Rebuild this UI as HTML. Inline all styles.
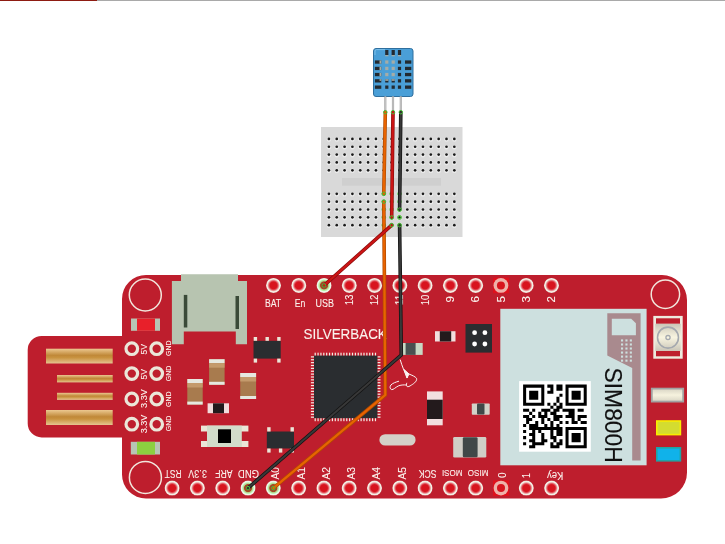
<!DOCTYPE html>
<html><head><meta charset="utf-8"><style>
html,body{margin:0;padding:0;background:#fff;width:725px;height:544px;overflow:hidden}
svg{display:block;will-change:transform}
text{font-family:"Liberation Sans",sans-serif}
</style></head><body>
<svg width="725" height="544" viewBox="0 0 725 544">
<defs>
<linearGradient id="gold" x1="0" y1="0" x2="0" y2="1">
<stop offset="0" stop-color="#ecc890"/><stop offset="0.45" stop-color="#c08838"/><stop offset="0.6" stop-color="#c8923f"/><stop offset="1" stop-color="#e6c490"/>
</linearGradient>
<radialGradient id="pinr" cx="0.5" cy="0.5" r="0.5">
<stop offset="0" stop-color="#d8141e"/><stop offset="0.46" stop-color="#d8141e"/><stop offset="0.6" stop-color="#e0505a"/><stop offset="0.72" stop-color="#eca4a4"/><stop offset="0.84" stop-color="#f6f2e8"/><stop offset="0.94" stop-color="#eeeae0"/><stop offset="1" stop-color="#dca8a4"/>
</radialGradient>
<radialGradient id="ping" cx="0.5" cy="0.5" r="0.5">
<stop offset="0" stop-color="#9c4626"/><stop offset="0.48" stop-color="#a24a26"/><stop offset="0.58" stop-color="#b8c888"/><stop offset="0.68" stop-color="#b0f0a0"/><stop offset="0.84" stop-color="#f0f8ea"/><stop offset="0.94" stop-color="#eaf0e2"/><stop offset="1" stop-color="#dcb0a8"/>
</radialGradient>
<linearGradient id="ant" x1="0" y1="0" x2="0" y2="1">
<stop offset="0" stop-color="#cac6b8"/><stop offset="0.5" stop-color="#f8f4e0"/><stop offset="1" stop-color="#cac6b8"/>
</linearGradient>
<linearGradient id="wcomp" x1="0" y1="0" x2="0" y2="1">
<stop offset="0" stop-color="#d8d4c4"/><stop offset="0.5" stop-color="#f6f2de"/><stop offset="1" stop-color="#d8d4c4"/>
</linearGradient>
</defs>

<rect x="0" y="0" width="97" height="1" fill="#8e1b12"/>
<rect x="97" y="0" width="628" height="1" fill="#a9a9a9"/>
<rect x="321" y="127" width="141.5" height="110" fill="#d9d9d9"/>
<rect x="342" y="178" width="99" height="7.7" fill="#cfcfcf"/>
<circle cx="328.90" cy="139.50" r="2.2" fill="#ececec"/>
<circle cx="328.90" cy="194.40" r="2.2" fill="#ececec"/>
<circle cx="328.90" cy="147.35" r="2.2" fill="#ececec"/>
<circle cx="328.90" cy="202.25" r="2.2" fill="#ececec"/>
<circle cx="328.90" cy="155.20" r="2.2" fill="#ececec"/>
<circle cx="328.90" cy="210.10" r="2.2" fill="#ececec"/>
<circle cx="328.90" cy="163.05" r="2.2" fill="#ececec"/>
<circle cx="328.90" cy="217.95" r="2.2" fill="#ececec"/>
<circle cx="328.90" cy="170.90" r="2.2" fill="#ececec"/>
<circle cx="328.90" cy="225.80" r="2.2" fill="#ececec"/>
<circle cx="336.74" cy="139.50" r="2.2" fill="#ececec"/>
<circle cx="336.74" cy="194.40" r="2.2" fill="#ececec"/>
<circle cx="336.74" cy="147.35" r="2.2" fill="#ececec"/>
<circle cx="336.74" cy="202.25" r="2.2" fill="#ececec"/>
<circle cx="336.74" cy="155.20" r="2.2" fill="#ececec"/>
<circle cx="336.74" cy="210.10" r="2.2" fill="#ececec"/>
<circle cx="336.74" cy="163.05" r="2.2" fill="#ececec"/>
<circle cx="336.74" cy="217.95" r="2.2" fill="#ececec"/>
<circle cx="336.74" cy="170.90" r="2.2" fill="#ececec"/>
<circle cx="336.74" cy="225.80" r="2.2" fill="#ececec"/>
<circle cx="344.58" cy="139.50" r="2.2" fill="#ececec"/>
<circle cx="344.58" cy="194.40" r="2.2" fill="#ececec"/>
<circle cx="344.58" cy="147.35" r="2.2" fill="#ececec"/>
<circle cx="344.58" cy="202.25" r="2.2" fill="#ececec"/>
<circle cx="344.58" cy="155.20" r="2.2" fill="#ececec"/>
<circle cx="344.58" cy="210.10" r="2.2" fill="#ececec"/>
<circle cx="344.58" cy="163.05" r="2.2" fill="#ececec"/>
<circle cx="344.58" cy="217.95" r="2.2" fill="#ececec"/>
<circle cx="344.58" cy="170.90" r="2.2" fill="#ececec"/>
<circle cx="344.58" cy="225.80" r="2.2" fill="#ececec"/>
<circle cx="352.42" cy="139.50" r="2.2" fill="#ececec"/>
<circle cx="352.42" cy="194.40" r="2.2" fill="#ececec"/>
<circle cx="352.42" cy="147.35" r="2.2" fill="#ececec"/>
<circle cx="352.42" cy="202.25" r="2.2" fill="#ececec"/>
<circle cx="352.42" cy="155.20" r="2.2" fill="#ececec"/>
<circle cx="352.42" cy="210.10" r="2.2" fill="#ececec"/>
<circle cx="352.42" cy="163.05" r="2.2" fill="#ececec"/>
<circle cx="352.42" cy="217.95" r="2.2" fill="#ececec"/>
<circle cx="352.42" cy="170.90" r="2.2" fill="#ececec"/>
<circle cx="352.42" cy="225.80" r="2.2" fill="#ececec"/>
<circle cx="360.26" cy="139.50" r="2.2" fill="#ececec"/>
<circle cx="360.26" cy="194.40" r="2.2" fill="#ececec"/>
<circle cx="360.26" cy="147.35" r="2.2" fill="#ececec"/>
<circle cx="360.26" cy="202.25" r="2.2" fill="#ececec"/>
<circle cx="360.26" cy="155.20" r="2.2" fill="#ececec"/>
<circle cx="360.26" cy="210.10" r="2.2" fill="#ececec"/>
<circle cx="360.26" cy="163.05" r="2.2" fill="#ececec"/>
<circle cx="360.26" cy="217.95" r="2.2" fill="#ececec"/>
<circle cx="360.26" cy="170.90" r="2.2" fill="#ececec"/>
<circle cx="360.26" cy="225.80" r="2.2" fill="#ececec"/>
<circle cx="368.10" cy="139.50" r="2.2" fill="#ececec"/>
<circle cx="368.10" cy="194.40" r="2.2" fill="#ececec"/>
<circle cx="368.10" cy="147.35" r="2.2" fill="#ececec"/>
<circle cx="368.10" cy="202.25" r="2.2" fill="#ececec"/>
<circle cx="368.10" cy="155.20" r="2.2" fill="#ececec"/>
<circle cx="368.10" cy="210.10" r="2.2" fill="#ececec"/>
<circle cx="368.10" cy="163.05" r="2.2" fill="#ececec"/>
<circle cx="368.10" cy="217.95" r="2.2" fill="#ececec"/>
<circle cx="368.10" cy="170.90" r="2.2" fill="#ececec"/>
<circle cx="368.10" cy="225.80" r="2.2" fill="#ececec"/>
<circle cx="375.94" cy="139.50" r="2.2" fill="#ececec"/>
<circle cx="375.94" cy="194.40" r="2.2" fill="#ececec"/>
<circle cx="375.94" cy="147.35" r="2.2" fill="#ececec"/>
<circle cx="375.94" cy="202.25" r="2.2" fill="#ececec"/>
<circle cx="375.94" cy="155.20" r="2.2" fill="#ececec"/>
<circle cx="375.94" cy="210.10" r="2.2" fill="#ececec"/>
<circle cx="375.94" cy="163.05" r="2.2" fill="#ececec"/>
<circle cx="375.94" cy="217.95" r="2.2" fill="#ececec"/>
<circle cx="375.94" cy="170.90" r="2.2" fill="#ececec"/>
<circle cx="375.94" cy="225.80" r="2.2" fill="#ececec"/>
<circle cx="383.78" cy="139.50" r="2.2" fill="#ececec"/>
<circle cx="383.78" cy="194.40" r="2.2" fill="#ececec"/>
<circle cx="383.78" cy="147.35" r="2.2" fill="#ececec"/>
<circle cx="383.78" cy="202.25" r="2.2" fill="#ececec"/>
<circle cx="383.78" cy="155.20" r="2.2" fill="#ececec"/>
<circle cx="383.78" cy="210.10" r="2.2" fill="#ececec"/>
<circle cx="383.78" cy="163.05" r="2.2" fill="#ececec"/>
<circle cx="383.78" cy="217.95" r="2.2" fill="#ececec"/>
<circle cx="383.78" cy="170.90" r="2.2" fill="#ececec"/>
<circle cx="383.78" cy="225.80" r="2.2" fill="#ececec"/>
<circle cx="391.62" cy="139.50" r="2.2" fill="#ececec"/>
<circle cx="391.62" cy="194.40" r="2.2" fill="#ececec"/>
<circle cx="391.62" cy="147.35" r="2.2" fill="#ececec"/>
<circle cx="391.62" cy="202.25" r="2.2" fill="#ececec"/>
<circle cx="391.62" cy="155.20" r="2.2" fill="#ececec"/>
<circle cx="391.62" cy="210.10" r="2.2" fill="#ececec"/>
<circle cx="391.62" cy="163.05" r="2.2" fill="#ececec"/>
<circle cx="391.62" cy="217.95" r="2.2" fill="#ececec"/>
<circle cx="391.62" cy="170.90" r="2.2" fill="#ececec"/>
<circle cx="391.62" cy="225.80" r="2.2" fill="#ececec"/>
<circle cx="399.46" cy="139.50" r="2.2" fill="#ececec"/>
<circle cx="399.46" cy="194.40" r="2.2" fill="#ececec"/>
<circle cx="399.46" cy="147.35" r="2.2" fill="#ececec"/>
<circle cx="399.46" cy="202.25" r="2.2" fill="#ececec"/>
<circle cx="399.46" cy="155.20" r="2.2" fill="#ececec"/>
<circle cx="399.46" cy="210.10" r="2.2" fill="#ececec"/>
<circle cx="399.46" cy="163.05" r="2.2" fill="#ececec"/>
<circle cx="399.46" cy="217.95" r="2.2" fill="#ececec"/>
<circle cx="399.46" cy="170.90" r="2.2" fill="#ececec"/>
<circle cx="399.46" cy="225.80" r="2.2" fill="#ececec"/>
<circle cx="407.30" cy="139.50" r="2.2" fill="#ececec"/>
<circle cx="407.30" cy="194.40" r="2.2" fill="#ececec"/>
<circle cx="407.30" cy="147.35" r="2.2" fill="#ececec"/>
<circle cx="407.30" cy="202.25" r="2.2" fill="#ececec"/>
<circle cx="407.30" cy="155.20" r="2.2" fill="#ececec"/>
<circle cx="407.30" cy="210.10" r="2.2" fill="#ececec"/>
<circle cx="407.30" cy="163.05" r="2.2" fill="#ececec"/>
<circle cx="407.30" cy="217.95" r="2.2" fill="#ececec"/>
<circle cx="407.30" cy="170.90" r="2.2" fill="#ececec"/>
<circle cx="407.30" cy="225.80" r="2.2" fill="#ececec"/>
<circle cx="415.14" cy="139.50" r="2.2" fill="#ececec"/>
<circle cx="415.14" cy="194.40" r="2.2" fill="#ececec"/>
<circle cx="415.14" cy="147.35" r="2.2" fill="#ececec"/>
<circle cx="415.14" cy="202.25" r="2.2" fill="#ececec"/>
<circle cx="415.14" cy="155.20" r="2.2" fill="#ececec"/>
<circle cx="415.14" cy="210.10" r="2.2" fill="#ececec"/>
<circle cx="415.14" cy="163.05" r="2.2" fill="#ececec"/>
<circle cx="415.14" cy="217.95" r="2.2" fill="#ececec"/>
<circle cx="415.14" cy="170.90" r="2.2" fill="#ececec"/>
<circle cx="415.14" cy="225.80" r="2.2" fill="#ececec"/>
<circle cx="422.98" cy="139.50" r="2.2" fill="#ececec"/>
<circle cx="422.98" cy="194.40" r="2.2" fill="#ececec"/>
<circle cx="422.98" cy="147.35" r="2.2" fill="#ececec"/>
<circle cx="422.98" cy="202.25" r="2.2" fill="#ececec"/>
<circle cx="422.98" cy="155.20" r="2.2" fill="#ececec"/>
<circle cx="422.98" cy="210.10" r="2.2" fill="#ececec"/>
<circle cx="422.98" cy="163.05" r="2.2" fill="#ececec"/>
<circle cx="422.98" cy="217.95" r="2.2" fill="#ececec"/>
<circle cx="422.98" cy="170.90" r="2.2" fill="#ececec"/>
<circle cx="422.98" cy="225.80" r="2.2" fill="#ececec"/>
<circle cx="430.82" cy="139.50" r="2.2" fill="#ececec"/>
<circle cx="430.82" cy="194.40" r="2.2" fill="#ececec"/>
<circle cx="430.82" cy="147.35" r="2.2" fill="#ececec"/>
<circle cx="430.82" cy="202.25" r="2.2" fill="#ececec"/>
<circle cx="430.82" cy="155.20" r="2.2" fill="#ececec"/>
<circle cx="430.82" cy="210.10" r="2.2" fill="#ececec"/>
<circle cx="430.82" cy="163.05" r="2.2" fill="#ececec"/>
<circle cx="430.82" cy="217.95" r="2.2" fill="#ececec"/>
<circle cx="430.82" cy="170.90" r="2.2" fill="#ececec"/>
<circle cx="430.82" cy="225.80" r="2.2" fill="#ececec"/>
<circle cx="438.66" cy="139.50" r="2.2" fill="#ececec"/>
<circle cx="438.66" cy="194.40" r="2.2" fill="#ececec"/>
<circle cx="438.66" cy="147.35" r="2.2" fill="#ececec"/>
<circle cx="438.66" cy="202.25" r="2.2" fill="#ececec"/>
<circle cx="438.66" cy="155.20" r="2.2" fill="#ececec"/>
<circle cx="438.66" cy="210.10" r="2.2" fill="#ececec"/>
<circle cx="438.66" cy="163.05" r="2.2" fill="#ececec"/>
<circle cx="438.66" cy="217.95" r="2.2" fill="#ececec"/>
<circle cx="438.66" cy="170.90" r="2.2" fill="#ececec"/>
<circle cx="438.66" cy="225.80" r="2.2" fill="#ececec"/>
<circle cx="446.50" cy="139.50" r="2.2" fill="#ececec"/>
<circle cx="446.50" cy="194.40" r="2.2" fill="#ececec"/>
<circle cx="446.50" cy="147.35" r="2.2" fill="#ececec"/>
<circle cx="446.50" cy="202.25" r="2.2" fill="#ececec"/>
<circle cx="446.50" cy="155.20" r="2.2" fill="#ececec"/>
<circle cx="446.50" cy="210.10" r="2.2" fill="#ececec"/>
<circle cx="446.50" cy="163.05" r="2.2" fill="#ececec"/>
<circle cx="446.50" cy="217.95" r="2.2" fill="#ececec"/>
<circle cx="446.50" cy="170.90" r="2.2" fill="#ececec"/>
<circle cx="446.50" cy="225.80" r="2.2" fill="#ececec"/>
<circle cx="454.34" cy="139.50" r="2.2" fill="#ececec"/>
<circle cx="454.34" cy="194.40" r="2.2" fill="#ececec"/>
<circle cx="454.34" cy="147.35" r="2.2" fill="#ececec"/>
<circle cx="454.34" cy="202.25" r="2.2" fill="#ececec"/>
<circle cx="454.34" cy="155.20" r="2.2" fill="#ececec"/>
<circle cx="454.34" cy="210.10" r="2.2" fill="#ececec"/>
<circle cx="454.34" cy="163.05" r="2.2" fill="#ececec"/>
<circle cx="454.34" cy="217.95" r="2.2" fill="#ececec"/>
<circle cx="454.34" cy="170.90" r="2.2" fill="#ececec"/>
<circle cx="454.34" cy="225.80" r="2.2" fill="#ececec"/>
<circle cx="328.90" cy="138.90" r="1.35" fill="#1a1a1a"/>
<circle cx="328.90" cy="193.80" r="1.35" fill="#1a1a1a"/>
<circle cx="328.90" cy="146.75" r="1.35" fill="#1a1a1a"/>
<circle cx="328.90" cy="201.65" r="1.35" fill="#1a1a1a"/>
<circle cx="328.90" cy="154.60" r="1.35" fill="#1a1a1a"/>
<circle cx="328.90" cy="209.50" r="1.35" fill="#1a1a1a"/>
<circle cx="328.90" cy="162.45" r="1.35" fill="#1a1a1a"/>
<circle cx="328.90" cy="217.35" r="1.35" fill="#1a1a1a"/>
<circle cx="328.90" cy="170.30" r="1.35" fill="#1a1a1a"/>
<circle cx="328.90" cy="225.20" r="1.35" fill="#1a1a1a"/>
<circle cx="336.74" cy="138.90" r="1.35" fill="#1a1a1a"/>
<circle cx="336.74" cy="193.80" r="1.35" fill="#1a1a1a"/>
<circle cx="336.74" cy="146.75" r="1.35" fill="#1a1a1a"/>
<circle cx="336.74" cy="201.65" r="1.35" fill="#1a1a1a"/>
<circle cx="336.74" cy="154.60" r="1.35" fill="#1a1a1a"/>
<circle cx="336.74" cy="209.50" r="1.35" fill="#1a1a1a"/>
<circle cx="336.74" cy="162.45" r="1.35" fill="#1a1a1a"/>
<circle cx="336.74" cy="217.35" r="1.35" fill="#1a1a1a"/>
<circle cx="336.74" cy="170.30" r="1.35" fill="#1a1a1a"/>
<circle cx="336.74" cy="225.20" r="1.35" fill="#1a1a1a"/>
<circle cx="344.58" cy="138.90" r="1.35" fill="#1a1a1a"/>
<circle cx="344.58" cy="193.80" r="1.35" fill="#1a1a1a"/>
<circle cx="344.58" cy="146.75" r="1.35" fill="#1a1a1a"/>
<circle cx="344.58" cy="201.65" r="1.35" fill="#1a1a1a"/>
<circle cx="344.58" cy="154.60" r="1.35" fill="#1a1a1a"/>
<circle cx="344.58" cy="209.50" r="1.35" fill="#1a1a1a"/>
<circle cx="344.58" cy="162.45" r="1.35" fill="#1a1a1a"/>
<circle cx="344.58" cy="217.35" r="1.35" fill="#1a1a1a"/>
<circle cx="344.58" cy="170.30" r="1.35" fill="#1a1a1a"/>
<circle cx="344.58" cy="225.20" r="1.35" fill="#1a1a1a"/>
<circle cx="352.42" cy="138.90" r="1.35" fill="#1a1a1a"/>
<circle cx="352.42" cy="193.80" r="1.35" fill="#1a1a1a"/>
<circle cx="352.42" cy="146.75" r="1.35" fill="#1a1a1a"/>
<circle cx="352.42" cy="201.65" r="1.35" fill="#1a1a1a"/>
<circle cx="352.42" cy="154.60" r="1.35" fill="#1a1a1a"/>
<circle cx="352.42" cy="209.50" r="1.35" fill="#1a1a1a"/>
<circle cx="352.42" cy="162.45" r="1.35" fill="#1a1a1a"/>
<circle cx="352.42" cy="217.35" r="1.35" fill="#1a1a1a"/>
<circle cx="352.42" cy="170.30" r="1.35" fill="#1a1a1a"/>
<circle cx="352.42" cy="225.20" r="1.35" fill="#1a1a1a"/>
<circle cx="360.26" cy="138.90" r="1.35" fill="#1a1a1a"/>
<circle cx="360.26" cy="193.80" r="1.35" fill="#1a1a1a"/>
<circle cx="360.26" cy="146.75" r="1.35" fill="#1a1a1a"/>
<circle cx="360.26" cy="201.65" r="1.35" fill="#1a1a1a"/>
<circle cx="360.26" cy="154.60" r="1.35" fill="#1a1a1a"/>
<circle cx="360.26" cy="209.50" r="1.35" fill="#1a1a1a"/>
<circle cx="360.26" cy="162.45" r="1.35" fill="#1a1a1a"/>
<circle cx="360.26" cy="217.35" r="1.35" fill="#1a1a1a"/>
<circle cx="360.26" cy="170.30" r="1.35" fill="#1a1a1a"/>
<circle cx="360.26" cy="225.20" r="1.35" fill="#1a1a1a"/>
<circle cx="368.10" cy="138.90" r="1.35" fill="#1a1a1a"/>
<circle cx="368.10" cy="193.80" r="1.35" fill="#1a1a1a"/>
<circle cx="368.10" cy="146.75" r="1.35" fill="#1a1a1a"/>
<circle cx="368.10" cy="201.65" r="1.35" fill="#1a1a1a"/>
<circle cx="368.10" cy="154.60" r="1.35" fill="#1a1a1a"/>
<circle cx="368.10" cy="209.50" r="1.35" fill="#1a1a1a"/>
<circle cx="368.10" cy="162.45" r="1.35" fill="#1a1a1a"/>
<circle cx="368.10" cy="217.35" r="1.35" fill="#1a1a1a"/>
<circle cx="368.10" cy="170.30" r="1.35" fill="#1a1a1a"/>
<circle cx="368.10" cy="225.20" r="1.35" fill="#1a1a1a"/>
<circle cx="375.94" cy="138.90" r="1.35" fill="#1a1a1a"/>
<circle cx="375.94" cy="193.80" r="1.35" fill="#1a1a1a"/>
<circle cx="375.94" cy="146.75" r="1.35" fill="#1a1a1a"/>
<circle cx="375.94" cy="201.65" r="1.35" fill="#1a1a1a"/>
<circle cx="375.94" cy="154.60" r="1.35" fill="#1a1a1a"/>
<circle cx="375.94" cy="209.50" r="1.35" fill="#1a1a1a"/>
<circle cx="375.94" cy="162.45" r="1.35" fill="#1a1a1a"/>
<circle cx="375.94" cy="217.35" r="1.35" fill="#1a1a1a"/>
<circle cx="375.94" cy="170.30" r="1.35" fill="#1a1a1a"/>
<circle cx="375.94" cy="225.20" r="1.35" fill="#1a1a1a"/>
<circle cx="383.78" cy="138.90" r="1.35" fill="#1a1a1a"/>
<circle cx="383.78" cy="193.80" r="1.35" fill="#1a1a1a"/>
<circle cx="383.78" cy="146.75" r="1.35" fill="#1a1a1a"/>
<circle cx="383.78" cy="201.65" r="1.35" fill="#1a1a1a"/>
<circle cx="383.78" cy="154.60" r="1.35" fill="#1a1a1a"/>
<circle cx="383.78" cy="209.50" r="1.35" fill="#1a1a1a"/>
<circle cx="383.78" cy="162.45" r="1.35" fill="#1a1a1a"/>
<circle cx="383.78" cy="217.35" r="1.35" fill="#1a1a1a"/>
<circle cx="383.78" cy="170.30" r="1.35" fill="#1a1a1a"/>
<circle cx="383.78" cy="225.20" r="1.35" fill="#1a1a1a"/>
<circle cx="391.62" cy="138.90" r="1.35" fill="#1a1a1a"/>
<circle cx="391.62" cy="193.80" r="1.35" fill="#1a1a1a"/>
<circle cx="391.62" cy="146.75" r="1.35" fill="#1a1a1a"/>
<circle cx="391.62" cy="201.65" r="1.35" fill="#1a1a1a"/>
<circle cx="391.62" cy="154.60" r="1.35" fill="#1a1a1a"/>
<circle cx="391.62" cy="209.50" r="1.35" fill="#1a1a1a"/>
<circle cx="391.62" cy="162.45" r="1.35" fill="#1a1a1a"/>
<circle cx="391.62" cy="217.35" r="1.35" fill="#1a1a1a"/>
<circle cx="391.62" cy="170.30" r="1.35" fill="#1a1a1a"/>
<circle cx="391.62" cy="225.20" r="1.35" fill="#1a1a1a"/>
<circle cx="399.46" cy="138.90" r="1.35" fill="#1a1a1a"/>
<circle cx="399.46" cy="193.80" r="1.35" fill="#1a1a1a"/>
<circle cx="399.46" cy="146.75" r="1.35" fill="#1a1a1a"/>
<circle cx="399.46" cy="201.65" r="1.35" fill="#1a1a1a"/>
<circle cx="399.46" cy="154.60" r="1.35" fill="#1a1a1a"/>
<circle cx="399.46" cy="209.50" r="1.35" fill="#1a1a1a"/>
<circle cx="399.46" cy="162.45" r="1.35" fill="#1a1a1a"/>
<circle cx="399.46" cy="217.35" r="1.35" fill="#1a1a1a"/>
<circle cx="399.46" cy="170.30" r="1.35" fill="#1a1a1a"/>
<circle cx="399.46" cy="225.20" r="1.35" fill="#1a1a1a"/>
<circle cx="407.30" cy="138.90" r="1.35" fill="#1a1a1a"/>
<circle cx="407.30" cy="193.80" r="1.35" fill="#1a1a1a"/>
<circle cx="407.30" cy="146.75" r="1.35" fill="#1a1a1a"/>
<circle cx="407.30" cy="201.65" r="1.35" fill="#1a1a1a"/>
<circle cx="407.30" cy="154.60" r="1.35" fill="#1a1a1a"/>
<circle cx="407.30" cy="209.50" r="1.35" fill="#1a1a1a"/>
<circle cx="407.30" cy="162.45" r="1.35" fill="#1a1a1a"/>
<circle cx="407.30" cy="217.35" r="1.35" fill="#1a1a1a"/>
<circle cx="407.30" cy="170.30" r="1.35" fill="#1a1a1a"/>
<circle cx="407.30" cy="225.20" r="1.35" fill="#1a1a1a"/>
<circle cx="415.14" cy="138.90" r="1.35" fill="#1a1a1a"/>
<circle cx="415.14" cy="193.80" r="1.35" fill="#1a1a1a"/>
<circle cx="415.14" cy="146.75" r="1.35" fill="#1a1a1a"/>
<circle cx="415.14" cy="201.65" r="1.35" fill="#1a1a1a"/>
<circle cx="415.14" cy="154.60" r="1.35" fill="#1a1a1a"/>
<circle cx="415.14" cy="209.50" r="1.35" fill="#1a1a1a"/>
<circle cx="415.14" cy="162.45" r="1.35" fill="#1a1a1a"/>
<circle cx="415.14" cy="217.35" r="1.35" fill="#1a1a1a"/>
<circle cx="415.14" cy="170.30" r="1.35" fill="#1a1a1a"/>
<circle cx="415.14" cy="225.20" r="1.35" fill="#1a1a1a"/>
<circle cx="422.98" cy="138.90" r="1.35" fill="#1a1a1a"/>
<circle cx="422.98" cy="193.80" r="1.35" fill="#1a1a1a"/>
<circle cx="422.98" cy="146.75" r="1.35" fill="#1a1a1a"/>
<circle cx="422.98" cy="201.65" r="1.35" fill="#1a1a1a"/>
<circle cx="422.98" cy="154.60" r="1.35" fill="#1a1a1a"/>
<circle cx="422.98" cy="209.50" r="1.35" fill="#1a1a1a"/>
<circle cx="422.98" cy="162.45" r="1.35" fill="#1a1a1a"/>
<circle cx="422.98" cy="217.35" r="1.35" fill="#1a1a1a"/>
<circle cx="422.98" cy="170.30" r="1.35" fill="#1a1a1a"/>
<circle cx="422.98" cy="225.20" r="1.35" fill="#1a1a1a"/>
<circle cx="430.82" cy="138.90" r="1.35" fill="#1a1a1a"/>
<circle cx="430.82" cy="193.80" r="1.35" fill="#1a1a1a"/>
<circle cx="430.82" cy="146.75" r="1.35" fill="#1a1a1a"/>
<circle cx="430.82" cy="201.65" r="1.35" fill="#1a1a1a"/>
<circle cx="430.82" cy="154.60" r="1.35" fill="#1a1a1a"/>
<circle cx="430.82" cy="209.50" r="1.35" fill="#1a1a1a"/>
<circle cx="430.82" cy="162.45" r="1.35" fill="#1a1a1a"/>
<circle cx="430.82" cy="217.35" r="1.35" fill="#1a1a1a"/>
<circle cx="430.82" cy="170.30" r="1.35" fill="#1a1a1a"/>
<circle cx="430.82" cy="225.20" r="1.35" fill="#1a1a1a"/>
<circle cx="438.66" cy="138.90" r="1.35" fill="#1a1a1a"/>
<circle cx="438.66" cy="193.80" r="1.35" fill="#1a1a1a"/>
<circle cx="438.66" cy="146.75" r="1.35" fill="#1a1a1a"/>
<circle cx="438.66" cy="201.65" r="1.35" fill="#1a1a1a"/>
<circle cx="438.66" cy="154.60" r="1.35" fill="#1a1a1a"/>
<circle cx="438.66" cy="209.50" r="1.35" fill="#1a1a1a"/>
<circle cx="438.66" cy="162.45" r="1.35" fill="#1a1a1a"/>
<circle cx="438.66" cy="217.35" r="1.35" fill="#1a1a1a"/>
<circle cx="438.66" cy="170.30" r="1.35" fill="#1a1a1a"/>
<circle cx="438.66" cy="225.20" r="1.35" fill="#1a1a1a"/>
<circle cx="446.50" cy="138.90" r="1.35" fill="#1a1a1a"/>
<circle cx="446.50" cy="193.80" r="1.35" fill="#1a1a1a"/>
<circle cx="446.50" cy="146.75" r="1.35" fill="#1a1a1a"/>
<circle cx="446.50" cy="201.65" r="1.35" fill="#1a1a1a"/>
<circle cx="446.50" cy="154.60" r="1.35" fill="#1a1a1a"/>
<circle cx="446.50" cy="209.50" r="1.35" fill="#1a1a1a"/>
<circle cx="446.50" cy="162.45" r="1.35" fill="#1a1a1a"/>
<circle cx="446.50" cy="217.35" r="1.35" fill="#1a1a1a"/>
<circle cx="446.50" cy="170.30" r="1.35" fill="#1a1a1a"/>
<circle cx="446.50" cy="225.20" r="1.35" fill="#1a1a1a"/>
<circle cx="454.34" cy="138.90" r="1.35" fill="#1a1a1a"/>
<circle cx="454.34" cy="193.80" r="1.35" fill="#1a1a1a"/>
<circle cx="454.34" cy="146.75" r="1.35" fill="#1a1a1a"/>
<circle cx="454.34" cy="201.65" r="1.35" fill="#1a1a1a"/>
<circle cx="454.34" cy="154.60" r="1.35" fill="#1a1a1a"/>
<circle cx="454.34" cy="209.50" r="1.35" fill="#1a1a1a"/>
<circle cx="454.34" cy="162.45" r="1.35" fill="#1a1a1a"/>
<circle cx="454.34" cy="217.35" r="1.35" fill="#1a1a1a"/>
<circle cx="454.34" cy="170.30" r="1.35" fill="#1a1a1a"/>
<circle cx="454.34" cy="225.20" r="1.35" fill="#1a1a1a"/>
<circle cx="383.78" cy="193.80" r="1.9" fill="none" stroke="#5ac84a" stroke-width="0.9"/>
<circle cx="383.78" cy="201.65" r="1.9" fill="none" stroke="#5ac84a" stroke-width="0.9"/>
<circle cx="383.78" cy="209.50" r="1.9" fill="none" stroke="#5ac84a" stroke-width="0.9"/>
<circle cx="383.78" cy="217.35" r="1.9" fill="none" stroke="#5ac84a" stroke-width="0.9"/>
<circle cx="383.78" cy="225.20" r="1.9" fill="none" stroke="#5ac84a" stroke-width="0.9"/>
<circle cx="391.62" cy="193.80" r="1.9" fill="none" stroke="#5ac84a" stroke-width="0.9"/>
<circle cx="391.62" cy="201.65" r="1.9" fill="none" stroke="#5ac84a" stroke-width="0.9"/>
<circle cx="391.62" cy="209.50" r="1.9" fill="none" stroke="#5ac84a" stroke-width="0.9"/>
<circle cx="391.62" cy="217.35" r="1.9" fill="none" stroke="#5ac84a" stroke-width="0.9"/>
<circle cx="391.62" cy="225.20" r="1.9" fill="none" stroke="#5ac84a" stroke-width="0.9"/>
<circle cx="399.46" cy="193.80" r="1.9" fill="none" stroke="#5ac84a" stroke-width="0.9"/>
<circle cx="399.46" cy="201.65" r="1.9" fill="none" stroke="#5ac84a" stroke-width="0.9"/>
<circle cx="399.46" cy="209.50" r="1.9" fill="none" stroke="#5ac84a" stroke-width="0.9"/>
<circle cx="399.46" cy="217.35" r="1.9" fill="none" stroke="#5ac84a" stroke-width="0.9"/>
<circle cx="399.46" cy="225.20" r="1.9" fill="none" stroke="#5ac84a" stroke-width="0.9"/>
<rect x="373.5" y="48.5" width="39.5" height="48" rx="2.5" fill="#4a9fd7" stroke="#2f6f9e" stroke-width="1"/>
<path d="M375,55 V51 Q375,49.6 376.5,49.6 H385" fill="none" stroke="#8cc8ee" stroke-width="0.8"/>
<rect x="385.2" y="50" width="3.2" height="5" fill="#232a30"/>
<rect x="385.2" y="55" width="3.2" height="1.3" fill="#a0aaa4"/>
<rect x="391.6" y="50" width="3.2" height="5" fill="#232a30"/>
<rect x="391.6" y="55" width="3.2" height="1.3" fill="#a0aaa4"/>
<rect x="397.9" y="50" width="3.2" height="5" fill="#232a30"/>
<rect x="397.9" y="55" width="3.2" height="1.3" fill="#a0aaa4"/>
<rect x="374.9" y="60.4" width="6.4" height="3.3" fill="#232a30"/>
<rect x="405" y="60.4" width="6.3" height="3.3" fill="#232a30"/>
<rect x="397.9" y="60.4" width="3.2" height="3.3" fill="#232a30"/>
<rect x="385.2" y="60.4" width="3.2" height="3.3" fill="#a6aca6"/>
<rect x="391.6" y="60.4" width="3.2" height="3.3" fill="#a6aca6"/>
<rect x="379.5" y="60.4" width="1.8" height="3.3" fill="#a6aca6"/>
<rect x="374.9" y="66.8" width="6.4" height="3.3" fill="#232a30"/>
<rect x="405" y="66.8" width="6.3" height="3.3" fill="#232a30"/>
<rect x="397.9" y="66.8" width="3.2" height="3.3" fill="#232a30"/>
<rect x="385.2" y="66.8" width="3.2" height="3.3" fill="#a6aca6"/>
<rect x="391.6" y="66.8" width="3.2" height="3.3" fill="#a6aca6"/>
<rect x="379.5" y="66.8" width="1.8" height="3.3" fill="#a6aca6"/>
<rect x="374.9" y="72.9" width="6.4" height="3.3" fill="#232a30"/>
<rect x="405" y="72.9" width="6.3" height="3.3" fill="#232a30"/>
<rect x="397.9" y="72.9" width="3.2" height="3.3" fill="#232a30"/>
<rect x="385.2" y="72.9" width="3.2" height="3.3" fill="#a6aca6"/>
<rect x="391.6" y="72.9" width="3.2" height="3.3" fill="#a6aca6"/>
<rect x="379.5" y="72.9" width="1.8" height="3.3" fill="#a6aca6"/>
<rect x="374.9" y="79.2" width="6.4" height="3.3" fill="#232a30"/>
<rect x="405" y="79.2" width="6.3" height="3.3" fill="#232a30"/>
<rect x="397.9" y="79.2" width="3.2" height="3.3" fill="#232a30"/>
<rect x="385.2" y="79.2" width="3.2" height="3.3" fill="#232a30"/>
<rect x="391.6" y="79.2" width="3.2" height="3.3" fill="#232a30"/>
<rect x="385.2" y="79.2" width="3.2" height="1.6" fill="#a6aca6"/>
<rect x="391.6" y="79.2" width="3.2" height="1.6" fill="#a6aca6"/>
<rect x="379.5" y="79.2" width="1.8" height="1.6" fill="#a6aca6"/>
<rect x="374.9" y="85.5" width="6.4" height="3.3" fill="#232a30"/>
<rect x="405" y="85.5" width="6.3" height="3.3" fill="#232a30"/>
<rect x="397.9" y="85.5" width="3.2" height="3.3" fill="#232a30"/>
<rect x="385.2" y="85.5" width="3.2" height="3.3" fill="#232a30"/>
<rect x="391.6" y="85.5" width="3.2" height="3.3" fill="#232a30"/>
<rect x="384.2" y="96.5" width="2.2" height="16" fill="#acacac"/><rect x="384.85" y="96.5" width="0.9" height="16" fill="#c8c8c8"/>
<rect x="391.9" y="96.5" width="2.2" height="16" fill="#acacac"/><rect x="392.55" y="96.5" width="0.9" height="16" fill="#c8c8c8"/>
<rect x="399.7" y="96.5" width="2.2" height="16" fill="#acacac"/><rect x="400.35" y="96.5" width="0.9" height="16" fill="#c8c8c8"/>
<path d="M146,275 H662 A25 25 0 0 1 687 300 V472.5 A26 26 0 0 1 661 498.5 H146 A24 24 0 0 1 122 474.5 V437.4 H41.7 A14 14 0 0 1 27.7 423.4 V350 A14 14 0 0 1 41.7 336 H122 V299 A24 24 0 0 1 146 275 Z" fill="#be1e2d"/>
<circle cx="145.3" cy="295" r="16" fill="none" stroke="#f2e6dc" stroke-width="1.5"/>
<circle cx="145.4" cy="477.4" r="16" fill="none" stroke="#f2e6dc" stroke-width="1.5"/>
<circle cx="665.4" cy="294.2" r="14.2" fill="none" stroke="#f2e6dc" stroke-width="1.5"/>
<rect x="46" y="348.7" width="66.7" height="14.8" fill="url(#gold)"/>
<rect x="57" y="375" width="55.7" height="7.4" fill="url(#gold)"/>
<rect x="57" y="392.8" width="55.7" height="7.1" fill="url(#gold)"/>
<rect x="46" y="410" width="66.7" height="15" fill="url(#gold)"/>
<rect x="131" y="318.5" width="29" height="12.3" fill="#b8c4b4"/><rect x="137" y="318.5" width="18" height="12.3" fill="#e8202a"/>
<rect x="130.8" y="441.8" width="29.2" height="12.7" fill="#b8c4b4"/><rect x="137" y="441.8" width="18" height="12.7" fill="#8cd040"/>
<circle cx="131.8" cy="348.7" r="5.8" fill="none" stroke="#ebe7d9" stroke-width="3.2"/>
<circle cx="131.8" cy="373.6" r="5.8" fill="none" stroke="#ebe7d9" stroke-width="3.2"/>
<circle cx="131.8" cy="399.0" r="5.8" fill="none" stroke="#ebe7d9" stroke-width="3.2"/>
<circle cx="131.8" cy="424.2" r="5.8" fill="none" stroke="#ebe7d9" stroke-width="3.2"/>
<circle cx="156.7" cy="348.7" r="5.8" fill="none" stroke="#ebe7d9" stroke-width="3.2"/>
<circle cx="156.7" cy="373.6" r="5.8" fill="none" stroke="#ebe7d9" stroke-width="3.2"/>
<circle cx="156.7" cy="399.0" r="5.8" fill="none" stroke="#ebe7d9" stroke-width="3.2"/>
<circle cx="156.7" cy="424.2" r="5.8" fill="none" stroke="#ebe7d9" stroke-width="3.2"/>
<text transform="translate(147.20,349.20) rotate(-90)" font-size="9.2" fill="#fbf3ee" stroke="#fbf3ee" stroke-width="0.08" text-anchor="middle" textLength="10.4" lengthAdjust="spacingAndGlyphs">5V</text>
<text transform="translate(147.20,374.20) rotate(-90)" font-size="9.2" fill="#fbf3ee" stroke="#fbf3ee" stroke-width="0.08" text-anchor="middle" textLength="10.4" lengthAdjust="spacingAndGlyphs">5V</text>
<text transform="translate(147.20,398.60) rotate(-90)" font-size="9.2" fill="#fbf3ee" stroke="#fbf3ee" stroke-width="0.08" text-anchor="middle" textLength="18.6" lengthAdjust="spacingAndGlyphs">3.3V</text>
<text transform="translate(147.20,424.00) rotate(-90)" font-size="9.2" fill="#fbf3ee" stroke="#fbf3ee" stroke-width="0.08" text-anchor="middle" textLength="18.6" lengthAdjust="spacingAndGlyphs">3.3V</text>
<text transform="translate(170.60,348.20) rotate(-90)" font-size="7.9" fill="#fbf3ee" stroke="#fbf3ee" stroke-width="0.08" text-anchor="middle" textLength="15.4" lengthAdjust="spacingAndGlyphs">GND</text>
<text transform="translate(170.60,373.50) rotate(-90)" font-size="7.9" fill="#fbf3ee" stroke="#fbf3ee" stroke-width="0.08" text-anchor="middle" textLength="15.4" lengthAdjust="spacingAndGlyphs">GND</text>
<text transform="translate(170.60,399.20) rotate(-90)" font-size="7.9" fill="#fbf3ee" stroke="#fbf3ee" stroke-width="0.08" text-anchor="middle" textLength="15.4" lengthAdjust="spacingAndGlyphs">GND</text>
<text transform="translate(170.60,423.50) rotate(-90)" font-size="7.9" fill="#fbf3ee" stroke="#fbf3ee" stroke-width="0.08" text-anchor="middle" textLength="15.4" lengthAdjust="spacingAndGlyphs">GND</text>
<path d="M181,274.2 H238 V281 H247 V344.3 H235.8 V331.6 H183.8 V344.3 H171.9 V281 H181 Z" fill="#b7c4b0"/>
<rect x="183.8" y="294.9" width="3.5" height="32.6" fill="#3a4a38"/>
<rect x="235.5" y="296" width="3.5" height="33" fill="#3a4a38"/>
<rect x="253.5" y="340.8" width="27.2" height="17.8" fill="#2a2d30"/>
<rect x="253.7" y="337" width="3.4" height="3.8" fill="#ebe6d8"/>
<rect x="265.5" y="337" width="3.4" height="3.8" fill="#ebe6d8"/>
<rect x="277.2" y="337" width="3.4" height="3.8" fill="#ebe6d8"/>
<rect x="253.7" y="358.6" width="3.4" height="4" fill="#ebe6d8"/>
<rect x="277.2" y="358.6" width="3.4" height="4" fill="#ebe6d8"/>
<rect x="266.8" y="431.5" width="27.2" height="17" fill="#2a2d30"/>
<rect x="267.2" y="427.2" width="3.4" height="4.3" fill="#ebe6d8"/>
<rect x="290.5" y="427.2" width="3.4" height="4.3" fill="#ebe6d8"/>
<rect x="267.2" y="448.5" width="3.4" height="4.1" fill="#ebe6d8"/>
<rect x="278.9" y="448.5" width="3.4" height="4.1" fill="#ebe6d8"/>
<rect x="290.5" y="448.5" width="3.4" height="4.1" fill="#ebe6d8"/>
<rect x="209.1" y="359.2" width="15.50" height="25.60" fill="#a87b4e"/>
<rect x="209.1" y="359.2" width="15.50" height="4" fill="#e6e8e0"/>
<rect x="209.1" y="363.2" width="15.50" height="4.5" fill="#c49a6c"/>
<rect x="209.1" y="381.8" width="15.50" height="3" fill="#e6e8e0"/>
<rect x="187.3" y="379" width="15.40" height="25.60" fill="#a87b4e"/>
<rect x="187.3" y="379" width="15.40" height="4" fill="#e6e8e0"/>
<rect x="187.3" y="383" width="15.40" height="4.5" fill="#c49a6c"/>
<rect x="187.3" y="401.6" width="15.40" height="3" fill="#e6e8e0"/>
<rect x="240.2" y="373" width="15.90" height="26.00" fill="#a87b4e"/>
<rect x="240.2" y="373" width="15.90" height="4" fill="#e6e8e0"/>
<rect x="240.2" y="377" width="15.90" height="4.5" fill="#c49a6c"/>
<rect x="240.2" y="396" width="15.90" height="3" fill="#e6e8e0"/>
<rect x="207.6" y="403.3" width="21.4" height="9.9" fill="#f2dcdc"/><rect x="213" y="403.3" width="11" height="9.9" fill="#221a1c"/>
<rect x="201" y="425.6" width="47.4" height="5.9" fill="#ebe6d8"/><rect x="201" y="441" width="47.4" height="6" fill="#ebe6d8"/>
<rect x="207" y="425.6" width="34.8" height="21.4" fill="#d2dcca"/><rect x="218" y="429.3" width="13" height="13.7" fill="#000"/>
<rect x="314.60" y="352.7" width="1.2" height="3.2" fill="#f4eee6"/>
<rect x="314.60" y="418" width="1.2" height="3.2" fill="#f4eee6"/>
<rect x="310.9" y="356.30" width="3.2" height="1.2" fill="#f4eee6"/>
<rect x="377.3" y="356.30" width="3.2" height="1.2" fill="#f4eee6"/>
<rect x="317.47" y="352.7" width="1.2" height="3.2" fill="#f4eee6"/>
<rect x="317.47" y="418" width="1.2" height="3.2" fill="#f4eee6"/>
<rect x="310.9" y="359.17" width="3.2" height="1.2" fill="#f4eee6"/>
<rect x="377.3" y="359.17" width="3.2" height="1.2" fill="#f4eee6"/>
<rect x="320.34" y="352.7" width="1.2" height="3.2" fill="#f4eee6"/>
<rect x="320.34" y="418" width="1.2" height="3.2" fill="#f4eee6"/>
<rect x="310.9" y="362.04" width="3.2" height="1.2" fill="#f4eee6"/>
<rect x="377.3" y="362.04" width="3.2" height="1.2" fill="#f4eee6"/>
<rect x="323.21" y="352.7" width="1.2" height="3.2" fill="#f4eee6"/>
<rect x="323.21" y="418" width="1.2" height="3.2" fill="#f4eee6"/>
<rect x="310.9" y="364.91" width="3.2" height="1.2" fill="#f4eee6"/>
<rect x="377.3" y="364.91" width="3.2" height="1.2" fill="#f4eee6"/>
<rect x="326.08" y="352.7" width="1.2" height="3.2" fill="#f4eee6"/>
<rect x="326.08" y="418" width="1.2" height="3.2" fill="#f4eee6"/>
<rect x="310.9" y="367.78" width="3.2" height="1.2" fill="#f4eee6"/>
<rect x="377.3" y="367.78" width="3.2" height="1.2" fill="#f4eee6"/>
<rect x="328.95" y="352.7" width="1.2" height="3.2" fill="#f4eee6"/>
<rect x="328.95" y="418" width="1.2" height="3.2" fill="#f4eee6"/>
<rect x="310.9" y="370.65" width="3.2" height="1.2" fill="#f4eee6"/>
<rect x="377.3" y="370.65" width="3.2" height="1.2" fill="#f4eee6"/>
<rect x="331.82" y="352.7" width="1.2" height="3.2" fill="#f4eee6"/>
<rect x="331.82" y="418" width="1.2" height="3.2" fill="#f4eee6"/>
<rect x="310.9" y="373.52" width="3.2" height="1.2" fill="#f4eee6"/>
<rect x="377.3" y="373.52" width="3.2" height="1.2" fill="#f4eee6"/>
<rect x="334.69" y="352.7" width="1.2" height="3.2" fill="#f4eee6"/>
<rect x="334.69" y="418" width="1.2" height="3.2" fill="#f4eee6"/>
<rect x="310.9" y="376.39" width="3.2" height="1.2" fill="#f4eee6"/>
<rect x="377.3" y="376.39" width="3.2" height="1.2" fill="#f4eee6"/>
<rect x="337.56" y="352.7" width="1.2" height="3.2" fill="#f4eee6"/>
<rect x="337.56" y="418" width="1.2" height="3.2" fill="#f4eee6"/>
<rect x="310.9" y="379.26" width="3.2" height="1.2" fill="#f4eee6"/>
<rect x="377.3" y="379.26" width="3.2" height="1.2" fill="#f4eee6"/>
<rect x="340.43" y="352.7" width="1.2" height="3.2" fill="#f4eee6"/>
<rect x="340.43" y="418" width="1.2" height="3.2" fill="#f4eee6"/>
<rect x="310.9" y="382.13" width="3.2" height="1.2" fill="#f4eee6"/>
<rect x="377.3" y="382.13" width="3.2" height="1.2" fill="#f4eee6"/>
<rect x="343.30" y="352.7" width="1.2" height="3.2" fill="#f4eee6"/>
<rect x="343.30" y="418" width="1.2" height="3.2" fill="#f4eee6"/>
<rect x="310.9" y="385.00" width="3.2" height="1.2" fill="#f4eee6"/>
<rect x="377.3" y="385.00" width="3.2" height="1.2" fill="#f4eee6"/>
<rect x="346.17" y="352.7" width="1.2" height="3.2" fill="#f4eee6"/>
<rect x="346.17" y="418" width="1.2" height="3.2" fill="#f4eee6"/>
<rect x="310.9" y="387.87" width="3.2" height="1.2" fill="#f4eee6"/>
<rect x="377.3" y="387.87" width="3.2" height="1.2" fill="#f4eee6"/>
<rect x="349.04" y="352.7" width="1.2" height="3.2" fill="#f4eee6"/>
<rect x="349.04" y="418" width="1.2" height="3.2" fill="#f4eee6"/>
<rect x="310.9" y="390.74" width="3.2" height="1.2" fill="#f4eee6"/>
<rect x="377.3" y="390.74" width="3.2" height="1.2" fill="#f4eee6"/>
<rect x="351.91" y="352.7" width="1.2" height="3.2" fill="#f4eee6"/>
<rect x="351.91" y="418" width="1.2" height="3.2" fill="#f4eee6"/>
<rect x="310.9" y="393.61" width="3.2" height="1.2" fill="#f4eee6"/>
<rect x="377.3" y="393.61" width="3.2" height="1.2" fill="#f4eee6"/>
<rect x="354.78" y="352.7" width="1.2" height="3.2" fill="#f4eee6"/>
<rect x="354.78" y="418" width="1.2" height="3.2" fill="#f4eee6"/>
<rect x="310.9" y="396.48" width="3.2" height="1.2" fill="#f4eee6"/>
<rect x="377.3" y="396.48" width="3.2" height="1.2" fill="#f4eee6"/>
<rect x="357.65" y="352.7" width="1.2" height="3.2" fill="#f4eee6"/>
<rect x="357.65" y="418" width="1.2" height="3.2" fill="#f4eee6"/>
<rect x="310.9" y="399.35" width="3.2" height="1.2" fill="#f4eee6"/>
<rect x="377.3" y="399.35" width="3.2" height="1.2" fill="#f4eee6"/>
<rect x="360.52" y="352.7" width="1.2" height="3.2" fill="#f4eee6"/>
<rect x="360.52" y="418" width="1.2" height="3.2" fill="#f4eee6"/>
<rect x="310.9" y="402.22" width="3.2" height="1.2" fill="#f4eee6"/>
<rect x="377.3" y="402.22" width="3.2" height="1.2" fill="#f4eee6"/>
<rect x="363.39" y="352.7" width="1.2" height="3.2" fill="#f4eee6"/>
<rect x="363.39" y="418" width="1.2" height="3.2" fill="#f4eee6"/>
<rect x="310.9" y="405.09" width="3.2" height="1.2" fill="#f4eee6"/>
<rect x="377.3" y="405.09" width="3.2" height="1.2" fill="#f4eee6"/>
<rect x="366.26" y="352.7" width="1.2" height="3.2" fill="#f4eee6"/>
<rect x="366.26" y="418" width="1.2" height="3.2" fill="#f4eee6"/>
<rect x="310.9" y="407.96" width="3.2" height="1.2" fill="#f4eee6"/>
<rect x="377.3" y="407.96" width="3.2" height="1.2" fill="#f4eee6"/>
<rect x="369.13" y="352.7" width="1.2" height="3.2" fill="#f4eee6"/>
<rect x="369.13" y="418" width="1.2" height="3.2" fill="#f4eee6"/>
<rect x="310.9" y="410.83" width="3.2" height="1.2" fill="#f4eee6"/>
<rect x="377.3" y="410.83" width="3.2" height="1.2" fill="#f4eee6"/>
<rect x="372.00" y="352.7" width="1.2" height="3.2" fill="#f4eee6"/>
<rect x="372.00" y="418" width="1.2" height="3.2" fill="#f4eee6"/>
<rect x="310.9" y="413.70" width="3.2" height="1.2" fill="#f4eee6"/>
<rect x="377.3" y="413.70" width="3.2" height="1.2" fill="#f4eee6"/>
<rect x="374.87" y="352.7" width="1.2" height="3.2" fill="#f4eee6"/>
<rect x="374.87" y="418" width="1.2" height="3.2" fill="#f4eee6"/>
<rect x="310.9" y="416.57" width="3.2" height="1.2" fill="#f4eee6"/>
<rect x="377.3" y="416.57" width="3.2" height="1.2" fill="#f4eee6"/>
<rect x="314" y="355.6" width="63.4" height="62.6" fill="#2a2d30"/>
<text x="303.6" y="338.9" font-size="15.3" fill="#fbf3ee" stroke="#fbf3ee" stroke-width="0.1" textLength="83.2" lengthAdjust="spacingAndGlyphs">SILVERBACK</text>
<rect x="402.8" y="343" width="19.9" height="11.9" fill="#c8d8c4"/><rect x="405.6" y="343" width="10" height="11.9" fill="#4a5050"/>
<rect x="435" y="331.2" width="20.5" height="10.3" fill="#f2dede"/><rect x="439.8" y="331.2" width="11.4" height="10.3" fill="#231a1c"/>
<rect x="465.5" y="324" width="26.5" height="28.6" fill="#2a2d30"/>
<circle cx="474.6" cy="332.7" r="2.4" fill="#fff"/>
<circle cx="484.9" cy="332.7" r="2.4" fill="#fff"/>
<circle cx="474.6" cy="344" r="2.4" fill="#fff"/>
<circle cx="484.9" cy="344" r="2.4" fill="#fff"/>
<rect x="427" y="391.4" width="15.7" height="33.9" fill="#f2dede"/><rect x="427" y="399.7" width="15.7" height="19.3" fill="#231a1c"/>
<rect x="471.8" y="403.4" width="17.9" height="11.4" rx="0.8" fill="#d2d2c8"/><rect x="477" y="403.6" width="7.5" height="11" rx="1" fill="#404848"/>
<rect x="379.4" y="434.2" width="36.2" height="11.4" rx="5.7" fill="#d4d0c8"/>
<rect x="453.2" y="437" width="33.1" height="20.5" rx="1.3" fill="#d0cec6"/><rect x="462.8" y="437.2" width="14.8" height="20.1" rx="1.3" fill="#404848"/>
<path d="M404.4,369.8 L409,374 L407.1,377.7 Z" fill="#fbf4f4"/>
<path d="M400.3,360 C402,366 404.5,372 407.3,377.6 M404.4,369.8 L409,374 L407.1,377.7 Z M409,374 C412,375.3 415.2,376.5 416.6,378.4 C417.2,380.8 414.5,383.3 411.5,385 C409.5,386.4 408,387 407.2,386.6 C406.2,385.6 406.4,384.2 406.7,383.2 M406.2,385 C403.5,384.7 400.5,385 398.2,386 C395.3,387.5 393.5,389.8 391.6,389.6 C389.8,389.1 389.6,386.6 390.9,385 C392.5,383.2 396,382 398.6,381.3" fill="none" fill-rule="nonzero" stroke="#fbf4f4" stroke-width="1.0" stroke-linejoin="round" stroke-linecap="round"/>
<rect x="500.3" y="308.8" width="146.3" height="156.5" fill="#cde0df"/>
<path d="M607.3,313.3 H640.6 V460.6 H632.2 V368 L607.3,355.6 Z" fill="#a98a8e"/>
<path d="M611.8,318.8 H631.2 L635.9,323.3 V335.3 H611.8 Z" fill="#cde0df"/>
<rect x="621.00" y="339.40" width="2.1" height="2.1" fill="#cde0df"/>
<rect x="625.40" y="339.40" width="2.1" height="2.1" fill="#cde0df"/>
<rect x="629.80" y="339.40" width="2.1" height="2.1" fill="#cde0df"/>
<rect x="621.00" y="343.44" width="2.1" height="2.1" fill="#cde0df"/>
<rect x="625.40" y="343.44" width="2.1" height="2.1" fill="#cde0df"/>
<rect x="629.80" y="343.44" width="2.1" height="2.1" fill="#cde0df"/>
<rect x="621.00" y="347.48" width="2.1" height="2.1" fill="#cde0df"/>
<rect x="625.40" y="347.48" width="2.1" height="2.1" fill="#cde0df"/>
<rect x="629.80" y="347.48" width="2.1" height="2.1" fill="#cde0df"/>
<rect x="621.00" y="351.52" width="2.1" height="2.1" fill="#cde0df"/>
<rect x="625.40" y="351.52" width="2.1" height="2.1" fill="#cde0df"/>
<rect x="629.80" y="351.52" width="2.1" height="2.1" fill="#cde0df"/>
<rect x="621.00" y="355.56" width="2.1" height="2.1" fill="#cde0df"/>
<rect x="625.40" y="355.56" width="2.1" height="2.1" fill="#cde0df"/>
<rect x="629.80" y="355.56" width="2.1" height="2.1" fill="#cde0df"/>
<rect x="621.00" y="359.60" width="2.1" height="2.1" fill="#cde0df"/>
<rect x="625.40" y="359.60" width="2.1" height="2.1" fill="#cde0df"/>
<rect x="629.80" y="359.60" width="2.1" height="2.1" fill="#cde0df"/>
<text transform="translate(605.3,367.4) rotate(90)" font-size="23.2" fill="#111" stroke="#111" stroke-width="0.15" textLength="95.5" lengthAdjust="spacingAndGlyphs">SIM800H</text>
<rect x="519.1" y="381.1" width="71.7" height="70.6" fill="#fff"/>
<path d="M523.10,384.60h21.21v3.03h-21.21zM547.34,384.60h6.06v3.03h-6.06zM556.43,384.60h6.06v3.03h-6.06zM565.52,384.60h21.21v3.03h-21.21zM523.10,387.63h3.03v3.03h-3.03zM541.28,387.63h3.03v3.03h-3.03zM550.37,387.63h3.03v3.03h-3.03zM556.43,387.63h6.06v3.03h-6.06zM565.52,387.63h3.03v3.03h-3.03zM583.70,387.63h3.03v3.03h-3.03zM523.10,390.66h3.03v3.03h-3.03zM529.16,390.66h9.09v3.03h-9.09zM541.28,390.66h3.03v3.03h-3.03zM547.34,390.66h6.06v3.03h-6.06zM565.52,390.66h3.03v3.03h-3.03zM571.58,390.66h9.09v3.03h-9.09zM583.70,390.66h3.03v3.03h-3.03zM523.10,393.69h3.03v3.03h-3.03zM529.16,393.69h9.09v3.03h-9.09zM541.28,393.69h3.03v3.03h-3.03zM559.46,393.69h3.03v3.03h-3.03zM565.52,393.69h3.03v3.03h-3.03zM571.58,393.69h9.09v3.03h-9.09zM583.70,393.69h3.03v3.03h-3.03zM523.10,396.72h3.03v3.03h-3.03zM529.16,396.72h9.09v3.03h-9.09zM541.28,396.72h3.03v3.03h-3.03zM556.43,396.72h3.03v3.03h-3.03zM565.52,396.72h3.03v3.03h-3.03zM571.58,396.72h9.09v3.03h-9.09zM583.70,396.72h3.03v3.03h-3.03zM523.10,399.75h3.03v3.03h-3.03zM541.28,399.75h3.03v3.03h-3.03zM556.43,399.75h3.03v3.03h-3.03zM565.52,399.75h3.03v3.03h-3.03zM583.70,399.75h3.03v3.03h-3.03zM523.10,402.78h21.21v3.03h-21.21zM547.34,402.78h3.03v3.03h-3.03zM553.40,402.78h3.03v3.03h-3.03zM559.46,402.78h3.03v3.03h-3.03zM565.52,402.78h21.21v3.03h-21.21zM550.37,405.81h3.03v3.03h-3.03zM556.43,405.81h6.06v3.03h-6.06zM523.10,408.84h6.06v3.03h-6.06zM532.19,408.84h3.03v3.03h-3.03zM541.28,408.84h9.09v3.03h-9.09zM553.40,408.84h6.06v3.03h-6.06zM562.49,408.84h12.12v3.03h-12.12zM577.64,408.84h6.06v3.03h-6.06zM529.16,411.87h3.03v3.03h-3.03zM538.25,411.87h3.03v3.03h-3.03zM544.31,411.87h3.03v3.03h-3.03zM550.37,411.87h6.06v3.03h-6.06zM568.55,411.87h6.06v3.03h-6.06zM523.10,414.90h6.06v3.03h-6.06zM532.19,414.90h3.03v3.03h-3.03zM538.25,414.90h9.09v3.03h-9.09zM553.40,414.90h9.09v3.03h-9.09zM565.52,414.90h9.09v3.03h-9.09zM577.64,414.90h9.09v3.03h-9.09zM526.13,417.93h6.06v3.03h-6.06zM541.28,417.93h3.03v3.03h-3.03zM547.34,417.93h3.03v3.03h-3.03zM553.40,417.93h6.06v3.03h-6.06zM571.58,417.93h3.03v3.03h-3.03zM577.64,417.93h3.03v3.03h-3.03zM526.13,420.96h3.03v3.03h-3.03zM535.22,420.96h3.03v3.03h-3.03zM541.28,420.96h3.03v3.03h-3.03zM550.37,420.96h3.03v3.03h-3.03zM559.46,420.96h3.03v3.03h-3.03zM565.52,420.96h3.03v3.03h-3.03zM571.58,420.96h6.06v3.03h-6.06zM580.67,420.96h6.06v3.03h-6.06zM523.10,423.99h3.03v3.03h-3.03zM529.16,423.99h9.09v3.03h-9.09zM544.31,423.99h3.03v3.03h-3.03zM550.37,423.99h3.03v3.03h-3.03zM556.43,423.99h3.03v3.03h-3.03zM529.16,427.02h33.33v3.03h-33.33zM565.52,427.02h21.21v3.03h-21.21zM523.10,430.05h3.03v3.03h-3.03zM532.19,430.05h3.03v3.03h-3.03zM538.25,430.05h3.03v3.03h-3.03zM550.37,430.05h3.03v3.03h-3.03zM556.43,430.05h6.06v3.03h-6.06zM565.52,430.05h3.03v3.03h-3.03zM583.70,430.05h3.03v3.03h-3.03zM529.16,433.08h6.06v3.03h-6.06zM541.28,433.08h3.03v3.03h-3.03zM550.37,433.08h3.03v3.03h-3.03zM556.43,433.08h6.06v3.03h-6.06zM565.52,433.08h3.03v3.03h-3.03zM571.58,433.08h9.09v3.03h-9.09zM583.70,433.08h3.03v3.03h-3.03zM523.10,436.11h3.03v3.03h-3.03zM532.19,436.11h3.03v3.03h-3.03zM541.28,436.11h3.03v3.03h-3.03zM550.37,436.11h6.06v3.03h-6.06zM565.52,436.11h3.03v3.03h-3.03zM571.58,436.11h9.09v3.03h-9.09zM583.70,436.11h3.03v3.03h-3.03zM529.16,439.14h6.06v3.03h-6.06zM541.28,439.14h6.06v3.03h-6.06zM553.40,439.14h3.03v3.03h-3.03zM559.46,439.14h3.03v3.03h-3.03zM565.52,439.14h3.03v3.03h-3.03zM571.58,439.14h9.09v3.03h-9.09zM583.70,439.14h3.03v3.03h-3.03zM523.10,442.17h3.03v3.03h-3.03zM532.19,442.17h12.12v3.03h-12.12zM550.37,442.17h3.03v3.03h-3.03zM556.43,442.17h6.06v3.03h-6.06zM565.52,442.17h3.03v3.03h-3.03zM583.70,442.17h3.03v3.03h-3.03zM529.16,445.20h6.06v3.03h-6.06zM550.37,445.20h9.09v3.03h-9.09zM565.52,445.20h21.21v3.03h-21.21z" fill="#000"/>
<rect x="654.3" y="316.9" width="27.4" height="40.8" fill="#eeeade" stroke="#eeeade" stroke-width="2"/>
<rect x="656" y="318.3" width="24" height="5.5" fill="#be1e2d"/><rect x="656" y="350.8" width="24" height="5.5" fill="#be1e2d"/>
<rect x="655.3" y="323.8" width="25.4" height="27" fill="url(#ant)"/>
<circle cx="668" cy="337.6" r="10.5" fill="none" stroke="#a4a8ae" stroke-width="1.6"/>
<circle cx="668" cy="337.6" r="2.1" fill="none" stroke="#a4a8ae" stroke-width="1.3"/>
<rect x="651.8" y="388.6" width="31.4" height="13" fill="url(#wcomp)" stroke="#a2a2a2" stroke-width="1.8"/>
<rect x="656.8" y="421" width="23.6" height="13.6" fill="#d4dc30" stroke="#f8ee00" stroke-width="1.6"/>
<rect x="656.8" y="447.8" width="23.6" height="13" fill="#10b2ea" stroke="#20a4a4" stroke-width="1.6"/>
<circle cx="273.50" cy="285.40" r="7.5" fill="url(#pinr)"/>
<circle cx="298.77" cy="285.40" r="7.5" fill="url(#pinr)"/>
<circle cx="324.04" cy="285.40" r="7.5" fill="url(#ping)"/>
<circle cx="349.31" cy="285.40" r="7.5" fill="url(#pinr)"/>
<circle cx="374.58" cy="285.40" r="7.5" fill="url(#pinr)"/>
<circle cx="399.85" cy="285.40" r="7.5" fill="url(#pinr)"/>
<circle cx="425.12" cy="285.40" r="7.5" fill="url(#pinr)"/>
<circle cx="450.39" cy="285.40" r="7.5" fill="url(#pinr)"/>
<circle cx="475.66" cy="285.40" r="7.5" fill="url(#pinr)"/>
<rect x="493.03" y="277.60" width="16" height="15.6" fill="#e0101c"/>
<circle cx="500.93" cy="285.40" r="7.4" fill="#eeb2aa"/><circle cx="500.93" cy="285.40" r="4" fill="#d8141e"/>
<circle cx="526.20" cy="285.40" r="7.5" fill="url(#pinr)"/>
<circle cx="551.47" cy="285.40" r="7.5" fill="url(#pinr)"/>
<text x="273.00" y="306.6" font-size="10.6" fill="#fbf3ee" stroke="#fbf3ee" stroke-width="0.08" text-anchor="middle" textLength="16.2" lengthAdjust="spacingAndGlyphs">BAT</text>
<text x="300.00" y="306.6" font-size="10.6" fill="#fbf3ee" stroke="#fbf3ee" stroke-width="0.08" text-anchor="middle" textLength="10.6" lengthAdjust="spacingAndGlyphs">En</text>
<text x="324.85" y="306.6" font-size="10.6" fill="#fbf3ee" stroke="#fbf3ee" stroke-width="0.08" text-anchor="middle" textLength="18.5" lengthAdjust="spacingAndGlyphs">USB</text>
<text transform="translate(352.77,299.90) rotate(-90)" font-size="10.6" fill="#fbf3ee" stroke="#fbf3ee" stroke-width="0.08" text-anchor="middle" textLength="10.8" lengthAdjust="spacingAndGlyphs">13</text>
<text transform="translate(378.06,299.90) rotate(-90)" font-size="10.6" fill="#fbf3ee" stroke="#fbf3ee" stroke-width="0.08" text-anchor="middle" textLength="10.8" lengthAdjust="spacingAndGlyphs">12</text>
<text transform="translate(403.35,299.90) rotate(-90)" font-size="10.6" fill="#fbf3ee" stroke="#fbf3ee" stroke-width="0.08" text-anchor="middle" textLength="10.8" lengthAdjust="spacingAndGlyphs">11</text>
<text transform="translate(428.64,299.90) rotate(-90)" font-size="10.6" fill="#fbf3ee" stroke="#fbf3ee" stroke-width="0.08" text-anchor="middle" textLength="10.8" lengthAdjust="spacingAndGlyphs">10</text>
<text transform="translate(453.93,299.20) rotate(-90)" font-size="10.6" fill="#fbf3ee" stroke="#fbf3ee" stroke-width="0.08" text-anchor="middle" textLength="6.4" lengthAdjust="spacingAndGlyphs">9</text>
<text transform="translate(479.22,299.20) rotate(-90)" font-size="10.6" fill="#fbf3ee" stroke="#fbf3ee" stroke-width="0.08" text-anchor="middle" textLength="6.4" lengthAdjust="spacingAndGlyphs">6</text>
<text transform="translate(504.51,299.20) rotate(-90)" font-size="10.6" fill="#fbf3ee" stroke="#fbf3ee" stroke-width="0.08" text-anchor="middle" textLength="6.4" lengthAdjust="spacingAndGlyphs">5</text>
<text transform="translate(529.80,299.20) rotate(-90)" font-size="10.6" fill="#fbf3ee" stroke="#fbf3ee" stroke-width="0.08" text-anchor="middle" textLength="6.4" lengthAdjust="spacingAndGlyphs">3</text>
<text transform="translate(555.09,299.20) rotate(-90)" font-size="10.6" fill="#fbf3ee" stroke="#fbf3ee" stroke-width="0.08" text-anchor="middle" textLength="6.4" lengthAdjust="spacingAndGlyphs">2</text>
<circle cx="172.10" cy="488.10" r="7.5" fill="url(#pinr)"/>
<circle cx="197.40" cy="488.10" r="7.5" fill="url(#pinr)"/>
<circle cx="222.70" cy="488.10" r="7.5" fill="url(#pinr)"/>
<circle cx="248.00" cy="488.10" r="7.5" fill="url(#ping)"/>
<circle cx="273.30" cy="488.10" r="7.5" fill="url(#ping)"/>
<circle cx="298.60" cy="488.10" r="7.5" fill="url(#pinr)"/>
<circle cx="323.90" cy="488.10" r="7.5" fill="url(#pinr)"/>
<circle cx="349.20" cy="488.10" r="7.5" fill="url(#pinr)"/>
<circle cx="374.50" cy="488.10" r="7.5" fill="url(#pinr)"/>
<circle cx="399.80" cy="488.10" r="7.5" fill="url(#pinr)"/>
<circle cx="425.10" cy="488.10" r="7.5" fill="url(#pinr)"/>
<circle cx="450.40" cy="488.10" r="7.5" fill="url(#pinr)"/>
<circle cx="475.70" cy="488.10" r="7.5" fill="url(#pinr)"/>
<rect x="493.10" y="480.30" width="16" height="15.6" fill="#e0101c"/>
<circle cx="501.00" cy="488.10" r="7.4" fill="#eeb2aa"/><circle cx="501.00" cy="488.10" r="4" fill="#d8141e"/>
<circle cx="526.30" cy="488.10" r="7.5" fill="url(#pinr)"/>
<circle cx="551.60" cy="488.10" r="7.5" fill="url(#pinr)"/>
<text transform="translate(173.10,470.3) rotate(180)" font-size="10.6" fill="#fbf3ee" stroke="#fbf3ee" stroke-width="0.08" text-anchor="middle" textLength="16.6" lengthAdjust="spacingAndGlyphs">RST</text>
<text transform="translate(197.60,470.3) rotate(180)" font-size="10.6" fill="#fbf3ee" stroke="#fbf3ee" stroke-width="0.08" text-anchor="middle" textLength="18.6" lengthAdjust="spacingAndGlyphs">3.3V</text>
<text transform="translate(223.80,470.3) rotate(180)" font-size="10.6" fill="#fbf3ee" stroke="#fbf3ee" stroke-width="0.08" text-anchor="middle" textLength="17.2" lengthAdjust="spacingAndGlyphs">ARF</text>
<text transform="translate(248.50,470.3) rotate(180)" font-size="10.6" fill="#fbf3ee" stroke="#fbf3ee" stroke-width="0.08" text-anchor="middle" textLength="21" lengthAdjust="spacingAndGlyphs">GND</text>
<text transform="translate(279.20,473.20) rotate(-90)" font-size="10.6" fill="#fbf3ee" stroke="#fbf3ee" stroke-width="0.08" text-anchor="middle" textLength="12.6" lengthAdjust="spacingAndGlyphs">A0</text>
<text transform="translate(304.50,473.20) rotate(-90)" font-size="10.6" fill="#fbf3ee" stroke="#fbf3ee" stroke-width="0.08" text-anchor="middle" textLength="12.6" lengthAdjust="spacingAndGlyphs">A1</text>
<text transform="translate(329.80,473.20) rotate(-90)" font-size="10.6" fill="#fbf3ee" stroke="#fbf3ee" stroke-width="0.08" text-anchor="middle" textLength="12.6" lengthAdjust="spacingAndGlyphs">A2</text>
<text transform="translate(355.10,473.20) rotate(-90)" font-size="10.6" fill="#fbf3ee" stroke="#fbf3ee" stroke-width="0.08" text-anchor="middle" textLength="12.6" lengthAdjust="spacingAndGlyphs">A3</text>
<text transform="translate(380.40,473.20) rotate(-90)" font-size="10.6" fill="#fbf3ee" stroke="#fbf3ee" stroke-width="0.08" text-anchor="middle" textLength="12.6" lengthAdjust="spacingAndGlyphs">A4</text>
<text transform="translate(405.70,473.20) rotate(-90)" font-size="10.6" fill="#fbf3ee" stroke="#fbf3ee" stroke-width="0.08" text-anchor="middle" textLength="12.6" lengthAdjust="spacingAndGlyphs">A5</text>
<text transform="translate(427.60,470.3) rotate(180)" font-size="10.6" fill="#fbf3ee" stroke="#fbf3ee" stroke-width="0.08" text-anchor="middle" textLength="17.7" lengthAdjust="spacingAndGlyphs">SCK</text>
<text transform="translate(452.20,470.2) rotate(180)" font-size="9" fill="#fbf3ee" stroke="#fbf3ee" stroke-width="0.08" text-anchor="middle" textLength="20.5" lengthAdjust="spacingAndGlyphs">MOSI</text>
<text transform="translate(478.10,470.2) rotate(180)" font-size="9" fill="#fbf3ee" stroke="#fbf3ee" stroke-width="0.08" text-anchor="middle" textLength="20.6" lengthAdjust="spacingAndGlyphs">MISO</text>
<text transform="translate(505.90,475.10) rotate(-90)" font-size="10.6" fill="#fbf3ee" stroke="#fbf3ee" stroke-width="0.08" text-anchor="middle" textLength="5.6" lengthAdjust="spacingAndGlyphs">0</text>
<text transform="translate(529.50,475.40) rotate(-90)" font-size="10.6" fill="#fbf3ee" stroke="#fbf3ee" stroke-width="0.08" text-anchor="middle" textLength="5.0" lengthAdjust="spacingAndGlyphs">1</text>
<text transform="translate(555.10,472.1) rotate(180)" font-size="10.6" fill="#fbf3ee" stroke="#fbf3ee" stroke-width="0.08" text-anchor="middle" textLength="16.2" lengthAdjust="spacingAndGlyphs">Key</text>
<path d="M385.3,112.2 L383.8,193.8" fill="none" stroke="#b04a00" stroke-width="3.6" stroke-linejoin="round" stroke-linecap="round"/>
<path d="M385.3,112.2 L383.8,193.8" fill="none" stroke="#e86400" stroke-width="2.2" stroke-linejoin="round" stroke-linecap="round"/>
<path d="M383.8,201.7 L385.3,395 L273.3,488.1" fill="none" stroke="#b04a00" stroke-width="3.6" stroke-linejoin="round" stroke-linecap="round"/>
<path d="M383.8,201.7 L385.3,395 L273.3,488.1" fill="none" stroke="#e86400" stroke-width="2.2" stroke-linejoin="round" stroke-linecap="round"/>
<path d="M393.0,112.2 L391.7,217.5" fill="none" stroke="#8a0c0c" stroke-width="3.6" stroke-linejoin="round" stroke-linecap="round"/>
<path d="M393.0,112.2 L391.7,217.5" fill="none" stroke="#cc1515" stroke-width="2.2" stroke-linejoin="round" stroke-linecap="round"/>
<path d="M391.7,225.2 L324.04,285.4" fill="none" stroke="#8a0c0c" stroke-width="3.6" stroke-linejoin="round" stroke-linecap="round"/>
<path d="M391.7,225.2 L324.04,285.4" fill="none" stroke="#cc1515" stroke-width="2.2" stroke-linejoin="round" stroke-linecap="round"/>
<path d="M400.8,112.2 L399.6,209.6" fill="none" stroke="#141414" stroke-width="3.6" stroke-linejoin="round" stroke-linecap="round"/>
<path d="M400.8,112.2 L399.6,209.6" fill="none" stroke="#383838" stroke-width="2.0" stroke-linejoin="round" stroke-linecap="round"/>
<path d="M399.6,225.2 L401.3,355.0 L248.0,488.1" fill="none" stroke="#141414" stroke-width="3.6" stroke-linejoin="round" stroke-linecap="round"/>
<path d="M399.6,225.2 L401.3,355.0 L248.0,488.1" fill="none" stroke="#383838" stroke-width="2.0" stroke-linejoin="round" stroke-linecap="round"/>
<circle cx="324.04" cy="285.4" r="1.75" fill="none" stroke="#48bc38" stroke-width="1.0"/>
<circle cx="248.0" cy="488.1" r="1.75" fill="none" stroke="#48bc38" stroke-width="1.0"/>
<circle cx="273.3" cy="488.1" r="1.75" fill="none" stroke="#48bc38" stroke-width="1.0"/>
<circle cx="385.3" cy="112.2" r="1.75" fill="none" stroke="#48bc38" stroke-width="1.0"/>
<circle cx="393.0" cy="112.2" r="1.75" fill="none" stroke="#48bc38" stroke-width="1.0"/>
<circle cx="400.8" cy="112.2" r="1.75" fill="none" stroke="#48bc38" stroke-width="1.0"/>
<circle cx="383.8" cy="193.8" r="1.75" fill="none" stroke="#48bc38" stroke-width="1.0"/>
<circle cx="383.8" cy="201.7" r="1.75" fill="none" stroke="#48bc38" stroke-width="1.0"/>
<circle cx="391.7" cy="217.5" r="1.75" fill="none" stroke="#48bc38" stroke-width="1.0"/>
<circle cx="391.7" cy="225.2" r="1.75" fill="none" stroke="#48bc38" stroke-width="1.0"/>
<circle cx="399.6" cy="209.6" r="1.75" fill="none" stroke="#48bc38" stroke-width="1.0"/>
<circle cx="399.6" cy="225.2" r="1.75" fill="none" stroke="#48bc38" stroke-width="1.0"/>
<circle cx="399.6" cy="217.5" r="1.75" fill="none" stroke="#48bc38" stroke-width="1.0"/>
</svg></body></html>
